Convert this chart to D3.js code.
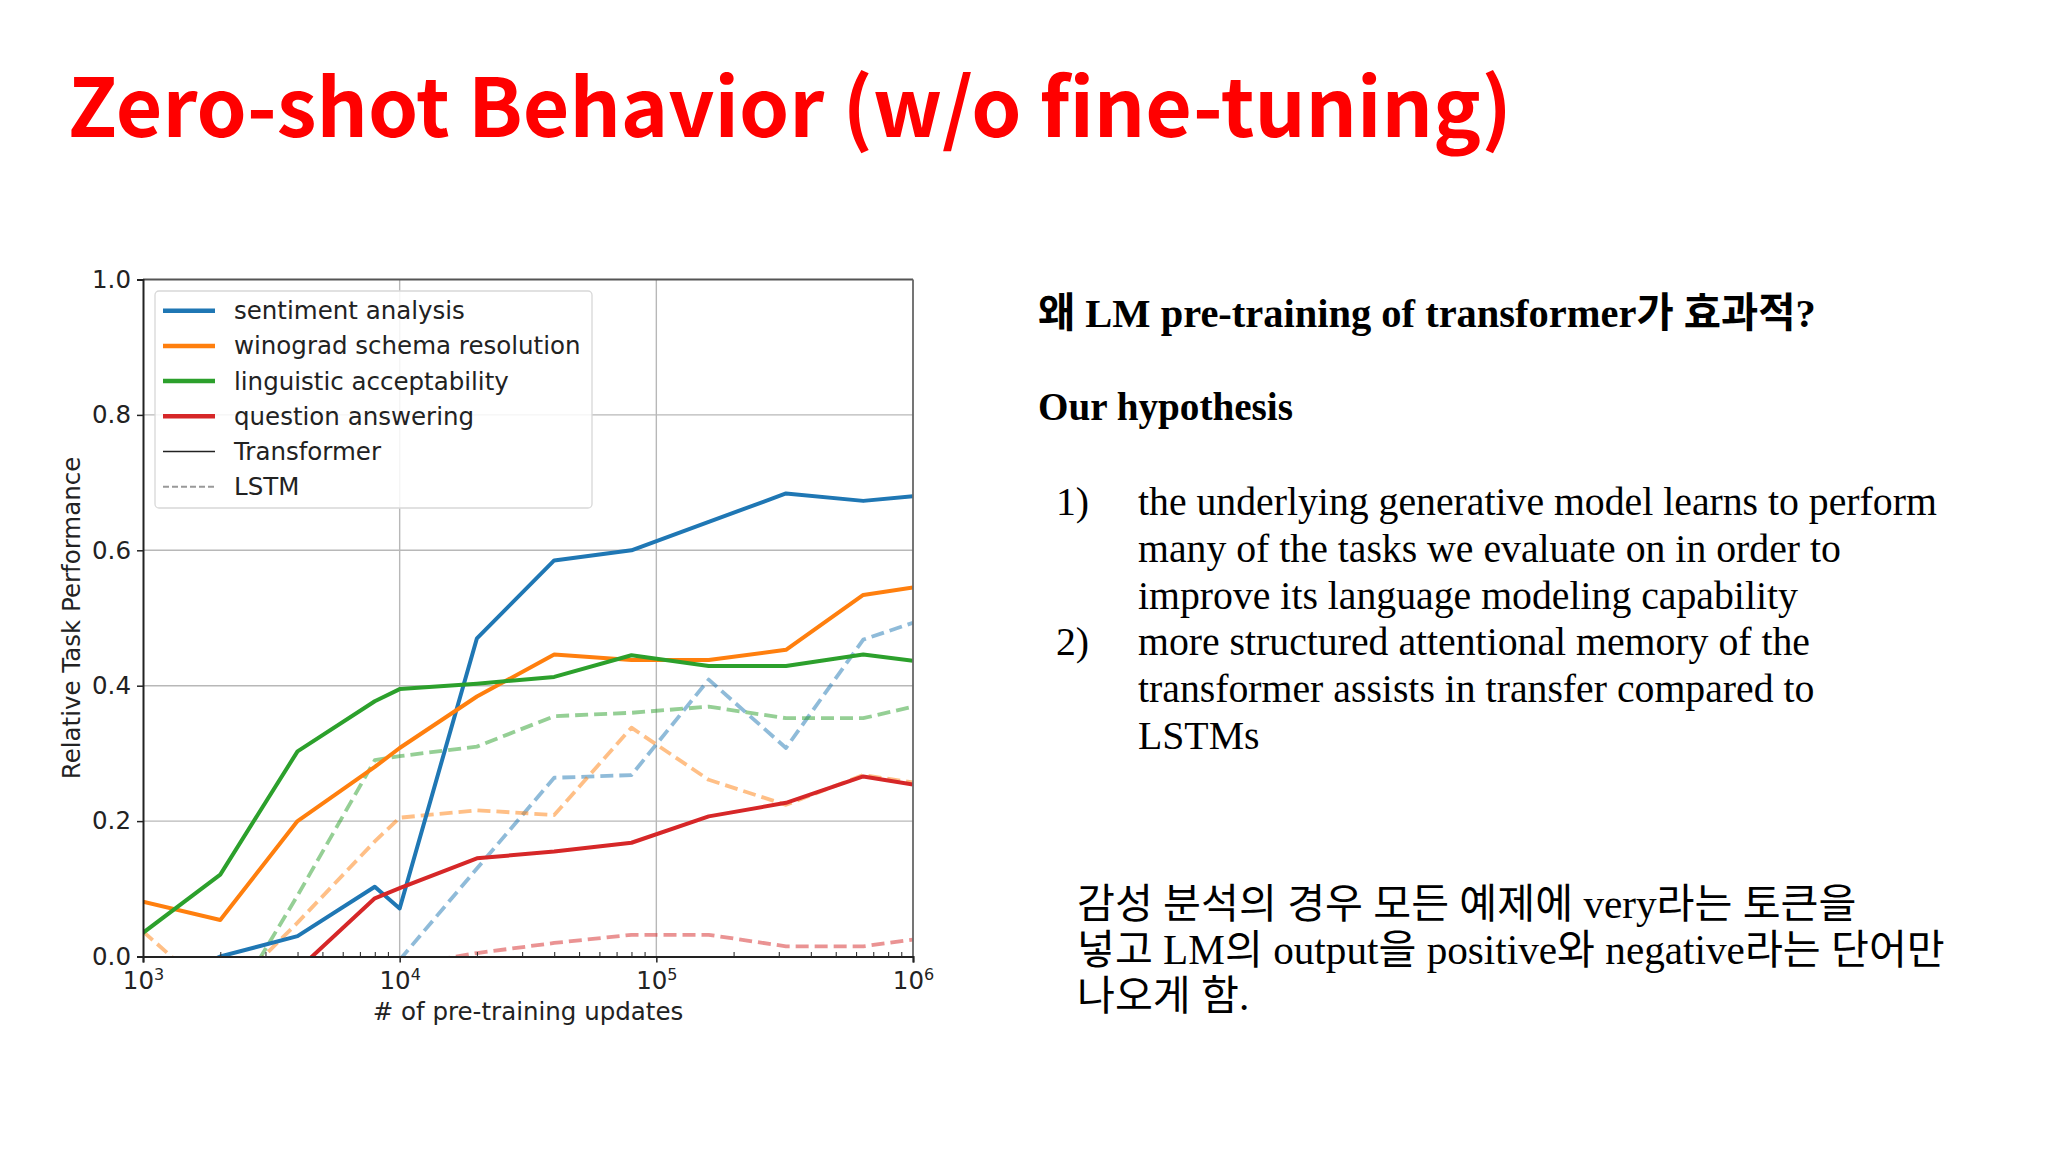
<!DOCTYPE html>
<html>
<head>
<meta charset="utf-8">
<script src="https://cdn.jsdelivr.net/npm/d3@7/dist/d3.min.js"></script>
<style>
  html, body { margin: 0; padding: 0; background: #fff; }
  svg { display: block; }
</style>
</head>
<body>
<svg id="chart" width="2048" height="1152"></svg>
<script>
// ---------------- DATA ----------------
const updates = [1000, 2000, 4000, 8000, 10000, 20000, 40000, 80000, 160000, 320000, 640000, 1000000];
const tasks = ["sentiment analysis", "winograd schema resolution", "linguistic acceptability", "question answering"];
const models = ["Transformer", "LSTM"];

// Transformer (solid)
const trSentiment  = [-0.05, 0.0, 0.03, 0.103, 0.071, 0.47, 0.585, 0.60, 0.642, 0.684, 0.673, 0.68];
const trWinograd   = [0.081, 0.054, 0.20, 0.28, 0.308, 0.384, 0.446, 0.438, 0.438, 0.453, 0.534, 0.545];
const trLinguistic = [0.035, 0.121, 0.303, 0.377, 0.395, 0.403, 0.413, 0.445, 0.429, 0.429, 0.446, 0.437];
const trQA         = [null, null, -0.02, 0.086, 0.101, 0.145, 0.155, 0.168, 0.207, 0.227, 0.266, 0.254];

// LSTM (dashed)
const lsSentiment  = [null, null, null, null, -0.005, 0.13, 0.264, 0.268, 0.409, 0.308, 0.468, 0.493];
const lsWinograd   = [0.037, -0.064, 0.05, 0.17, 0.205, 0.216, 0.209, 0.338, 0.261, 0.224, 0.268, 0.257];
const lsLinguistic = [null, -0.10, 0.09, 0.29, 0.296, 0.31, 0.355, 0.36, 0.369, 0.352, 0.352, 0.369];
const lsQA         = [null, null, null, null, -0.014, 0.005, 0.02, 0.032, 0.032, 0.015, 0.015, 0.025];

const yTicks = [0.0, 0.2, 0.4, 0.6, 0.8, 1.0];
const xMajorTicks = [1e3, 1e4, 1e5, 1e6];
const xMinorMultipliers = [2, 3, 4, 5, 6, 7, 8, 9];

const titleText = "Zero-shot Behavior (w/o fine-tuning)";
const xLabel = "# of pre-training updates";
const yLabel = "Relative Task Performance";
const headingText = "왜 LM pre-training of transformer가 효과적?";
const subHeadingText = "Our hypothesis";
const hypothesisItems = [
  { num: "1)", lines: ["the underlying generative model learns to perform", "many of the tasks we evaluate on in order to", "improve its language modeling capability"] },
  { num: "2)", lines: ["more structured attentional memory of the", "transformer assists in transfer compared to", "LSTMs"] }
];
const noteLines = [
  "감성 분석의 경우 모든 예제에 very라는 토큰을",
  "넣고 LM의 output을 positive와 negative라는 단어만",
  "나오게 함."
];

// ---------------- STYLE ----------------
const taskColors = ["#1f77b4", "#ff7f0e", "#2ca02c", "#d62728"];
const axisFont = "'DejaVu Sans', sans-serif";
const serifFont = "'Liberation Serif', 'Noto Sans CJK KR', serif";

const svg = d3.select("#chart");
svg.append("rect").attr("width", 2048).attr("height", 1152).attr("fill", "#fff");

function fitText(sel, target) {
  const len = sel.node().getComputedTextLength();
  const fs = parseFloat(sel.attr("font-size"));
  sel.attr("font-size", (fs * target / len).toFixed(2));
}

// ---------------- TITLE ----------------
const title = svg.append("text")
  .attr("x", 68).attr("y", 137)
  .attr("font-family", "'Noto Sans CJK KR', 'Noto Sans', sans-serif")
  .attr("font-weight", 600)
  .attr("font-size", 88)
  .attr("fill", "#ff0000")
  .text(titleText);
fitText(title, 1444);

// ---------------- CHART ----------------
const L = 143, R = 913, T = 279.5, B = 956.5;
const x = d3.scaleLog().domain([1e3, 1e6]).range([L, R]);
const y = d3.scaleLinear().domain([0, 1]).range([B, T]);

const plot = svg.append("g");

// grid
plot.append("g").selectAll("line").data(xMajorTicks.slice(1, -1)).join("line")
  .attr("x1", d => x(d)).attr("x2", d => x(d)).attr("y1", T).attr("y2", B)
  .attr("stroke", "#b8b8b8").attr("stroke-width", 1.4);
plot.append("g").selectAll("line").data(yTicks.slice(1, -1)).join("line")
  .attr("x1", L).attr("x2", R).attr("y1", d => y(d)).attr("y2", d => y(d))
  .attr("stroke", "#b8b8b8").attr("stroke-width", 1.4);

svg.append("defs").append("clipPath").attr("id", "plotclip")
  .append("rect").attr("x", L).attr("y", T).attr("width", R - L).attr("height", B - T);

const line = d3.line()
  .defined(d => d[1] !== null)
  .x(d => x(d[0])).y(d => y(d[1]));

const lstmSeries = [lsSentiment, lsWinograd, lsLinguistic, lsQA];
const trSeries = [trSentiment, trWinograd, trLinguistic, trQA];

const lines = plot.append("g").attr("clip-path", "url(#plotclip)");
lstmSeries.forEach((vals, i) => {
  lines.append("path")
    .datum(updates.map((u, j) => [u, vals[j]]))
    .attr("d", line)
    .attr("fill", "none")
    .attr("stroke", taskColors[i])
    .attr("stroke-opacity", 0.5)
    .attr("stroke-width", 3.8)
    .attr("stroke-dasharray", "13,6")
    .attr("stroke-linejoin", "round");
});
trSeries.forEach((vals, i) => {
  lines.append("path")
    .datum(updates.map((u, j) => [u, vals[j]]))
    .attr("d", line)
    .attr("fill", "none")
    .attr("stroke", taskColors[i])
    .attr("stroke-width", 4)
    .attr("stroke-linejoin", "round");
});

// spines
plot.append("line").attr("x1", L).attr("x2", R).attr("y1", T).attr("y2", T).attr("stroke", "#555").attr("stroke-width", 1.8);
plot.append("line").attr("x1", R).attr("x2", R).attr("y1", T).attr("y2", B).attr("stroke", "#666").attr("stroke-width", 1.8);

// y axis
const yAxis = plot.append("g").attr("transform", `translate(${L},0)`)
  .call(d3.axisLeft(y).tickValues(yTicks).tickFormat(d3.format(".1f")).tickSize(6).tickPadding(6));
yAxis.select(".domain").attr("stroke", "#222").attr("stroke-width", 2);
yAxis.selectAll(".tick line").attr("stroke", "#222").attr("stroke-width", 1.5);
yAxis.selectAll(".tick text").attr("font-family", axisFont).attr("font-size", 24.5).attr("fill", "#222");

// x axis major
const xAxis = plot.append("g").attr("transform", `translate(0,${B})`)
  .call(d3.axisBottom(x).tickValues(xMajorTicks).tickFormat("").tickSize(6).tickPadding(6));
xAxis.select(".domain").attr("stroke", "#222").attr("stroke-width", 2);
xAxis.selectAll(".tick line").attr("stroke", "#222").attr("stroke-width", 1.5);
xAxis.selectAll(".tick").each(function(d) {
  const t = d3.select(this).select("text")
    .attr("font-family", axisFont).attr("font-size", 24.5).attr("fill", "#222")
    .attr("y", 15).attr("dy", "0.71em");
  t.append("tspan").text("10");
  t.append("tspan").attr("font-size", 16).attr("dy", "-0.55em").text(Math.round(Math.log10(d)));
});

// x axis minor (inward)
const minors = [];
[1e3, 1e4, 1e5].forEach(b => xMinorMultipliers.forEach(m => minors.push(b * m)));
const xMinor = plot.append("g").attr("transform", `translate(0,${B})`)
  .call(d3.axisBottom(x).tickValues(minors).tickFormat("").tickSize(-4.5));
xMinor.select(".domain").remove();
xMinor.selectAll(".tick line").attr("stroke", "#333").attr("stroke-width", 1.1);

// axis labels
svg.append("text")
  .attr("x", (L + R) / 2).attr("y", 1020)
  .attr("text-anchor", "middle")
  .attr("font-family", axisFont).attr("font-size", 24.5).attr("fill", "#222")
  .text(xLabel);
svg.append("text")
  .attr("transform", `translate(80,${(T + B) / 2}) rotate(-90)`)
  .attr("text-anchor", "middle")
  .attr("font-family", axisFont).attr("font-size", 24.5).attr("fill", "#222")
  .text(yLabel);

// legend
const lg = svg.append("g");
lg.append("rect")
  .attr("x", 155).attr("y", 291).attr("width", 437).attr("height", 217)
  .attr("rx", 4).attr("fill", "#fff").attr("fill-opacity", 0.85)
  .attr("stroke", "#d8d8d8").attr("stroke-width", 1.3);
const legendItems = tasks.map((t, i) => ({ label: t, color: taskColors[i], width: 4.5, dash: null }))
  .concat([
    { label: models[0], color: "#222", width: 1.6, dash: null },
    { label: models[1], color: "#999", width: 2, dash: "6,3" }
  ]);
legendItems.forEach((it, i) => {
  const cy = 310.7 + i * 35.2;
  lg.append("line").attr("x1", 163).attr("x2", 215).attr("y1", cy).attr("y2", cy)
    .attr("stroke", it.color).attr("stroke-width", it.width)
    .attr("stroke-dasharray", it.dash);
  lg.append("text").attr("x", 234).attr("y", cy).attr("dy", "0.35em")
    .attr("font-family", axisFont).attr("font-size", 24.5).attr("fill", "#222")
    .text(it.label);
});

// ---------------- RIGHT TEXT ----------------
const heading = svg.append("text")
  .attr("x", 1038).attr("y", 327)
  .attr("font-family", serifFont).attr("font-weight", "bold")
  .attr("font-size", 38).attr("fill", "#000")
  .text(headingText);
fitText(heading, 778);

const sub = svg.append("text")
  .attr("x", 1038).attr("y", 420)
  .attr("font-family", serifFont).attr("font-weight", "bold")
  .attr("font-size", 38).attr("fill", "#000")
  .text(subHeadingText);
fitText(sub, 255);

const probe = svg.append("text").attr("font-family", serifFont).attr("font-size", 38)
  .text(hypothesisItems[0].lines[0]);
const bodySize = 38 * 799 / probe.node().getComputedTextLength();
probe.remove();

let lineIdx = 0;
hypothesisItems.forEach(item => {
  item.lines.forEach((ln, k) => {
    const by = 515 + lineIdx * 46.8;
    if (k === 0) {
      svg.append("text").attr("x", 1056).attr("y", by)
        .attr("font-family", serifFont).attr("font-size", bodySize).attr("fill", "#000")
        .text(item.num);
    }
    svg.append("text").attr("x", 1138).attr("y", by)
      .attr("font-family", serifFont).attr("font-size", bodySize).attr("fill", "#000")
      .text(ln);
    lineIdx++;
  });
});

const probe2 = svg.append("text").attr("font-family", serifFont).attr("font-size", 36)
  .text(noteLines[1]);
const noteSize = 36 * 868 / probe2.node().getComputedTextLength();
probe2.remove();
noteLines.forEach((ln, i) => {
  svg.append("text").attr("x", 1077).attr("y", 918 + i * 46)
    .attr("font-family", serifFont).attr("font-size", noteSize).attr("fill", "#000")
    .text(ln);
});
</script>
</body>
</html>
